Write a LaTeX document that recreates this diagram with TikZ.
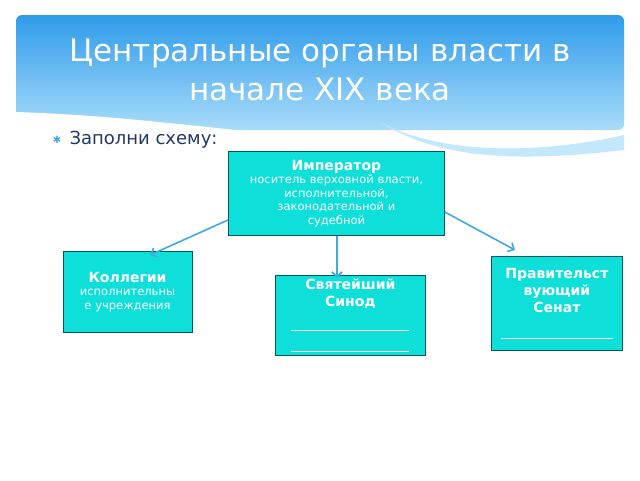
\documentclass[tikz,border=0pt]{standalone}
\usepackage{fontspec}
\setmainfont{DejaVu Sans}
\usetikzlibrary{arrows.meta}
\begin{document}
\begin{tikzpicture}[x=1pt,y=-1pt,
  box/.style={draw=teal!70!black,fill=turq,line width=0.8pt,text=white,align=center,inner sep=2pt,anchor=north west},
  arr/.style={draw=arrblue,line width=1.6pt,-{Straight Barb[length=5pt,width=10pt]}}]
\definecolor{turq}{HTML}{0EDFD8}
\definecolor{arrblue}{HTML}{3FA9E8}
\definecolor{hdr1}{HTML}{2E9BEA}
\definecolor{hdr2}{HTML}{A9DCFA}
\definecolor{txtblue}{HTML}{1F3864}
\useasboundingbox (0,0) rectangle (640,480);
\fill[white] (0,0) rectangle (640,480);
\shade[top color=hdr1,bottom color=hdr2,rounded corners=6pt] (16,15) -- (624,15) -- (624,130) -- (16,130) -- cycle;
\fill[white] (16,112) .. controls (200,118) and (300,150) .. (624,150) -- (624,480) -- (16,480) -- cycle;
\fill[hdr2!70!white] (380,122) .. controls (450,160) and (560,150) .. (624,135) -- (624,150) .. controls (520,162) and (440,160) .. (380,122);
\node[text=white,font=\fontsize{31}{39}\selectfont,align=center] (title) at (320,70) {Центральные органы власти в\\начале XIX века};
\node[text=arrblue,font=\fontsize{10}{12}\selectfont] (bul) at (57,140) {✱};
\node[text=txtblue,font=\fontsize{18}{20}\selectfont,anchor=west] (task) at (66,140) {Заполни схему:};
\node[box,minimum width=216,minimum height=84,text width=212,font=\fontsize{11.5}{13.5}\selectfont,anchor=north west] (imp) at (228,151) {{\bfseries\fontsize{14}{16}\selectfont Император}\\носитель верховной власти,\\исполнительной,\\законодательной и\\судебной};
\node[box,minimum width=129,minimum height=81,text width=125,font=\fontsize{11.5}{13.5}\selectfont,anchor=center] (kol) at (127.5,292) {{\bfseries\fontsize{14}{16}\selectfont Коллегии}\\исполнительны\\е учреждения};
\path (kol.north west) ++(0,0);
\node[box,minimum width=150,minimum height=80,text width=146,font=\bfseries\fontsize{14}{17}\selectfont] (sin) at (275,275) {Святейший\\Синод\\[8pt]\rule{118pt}{1pt}\\[4pt]\rule{118pt}{1pt}};
\node[box,minimum width=131,minimum height=94,text width=127,font=\bfseries\fontsize{14}{17}\selectfont] (sen) at (491,256) {Правительст\\вующий\\Сенат\\[10pt]\rule{112pt}{1pt}};
\coordinate (k1) at (150,255);
\coordinate (s1) at (515,250);
\draw[arr] (imp.south west |- 0,220) -- (k1);
\draw[arr] (imp.south -| 337,0) -- ([yshift=-3]sin.north -| 337,0);
\draw[arr] (imp.east |- 0,212) -- (s1);
\end{tikzpicture}
\end{document}
